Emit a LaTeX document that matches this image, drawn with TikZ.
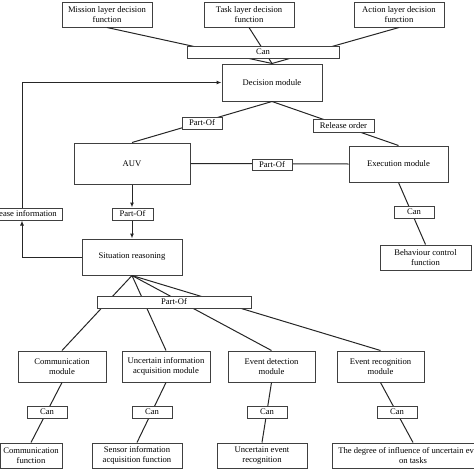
\documentclass[tikz,border=0pt]{standalone}
\usepackage{fontspec}
\setmainfont{Liberation Serif}
\usetikzlibrary{arrows.meta}

\begin{document}
\begin{tikzpicture}[x=1pt,y=-1pt,
    box/.style={draw=black!75,line width=1pt,fill=white,rectangle,inner sep=0pt,align=center,
      font=\fontsize{8.6}{10.5}\selectfont},
    tag/.style={box,minimum height=12pt},
    link/.style={draw=black!85,line width=1pt},
    arr/.style={link,-{Latex[length=5pt,width=4pt]}}]
    \useasboundingbox (0,0) rectangle (474,474);
    \clip (0,0) rectangle (474,474);
    \node [box,minimum width=90pt,minimum height=25pt] (mission) at (107,14.5) {Mission layer decision\\function};
    \node [box,minimum width=90pt,minimum height=25pt] (task) at (249,14.5) {Task layer decision\\function};
    \node [box,minimum width=90pt,minimum height=25pt] (action) at (399,14.5) {Action layer decision\\function};
    \node [box,minimum width=100pt,minimum height=37pt] (decision) at (272,82.5) {Decision module};
    \node [box,minimum width=116pt,minimum height=41pt] (auv) at (132,163.5) {AUV};
    \node [box,minimum width=99pt,minimum height=36pt] (exec) at (398.5,164) {Execution module};
    \node [box,minimum width=100pt,minimum height=36pt] (situation) at (132,257) {Situation reasoning};
    \node [box,minimum width=91pt,minimum height=25pt] (behaviour) at (425.5,257.5) {Behaviour control\\function};
    \node [box,minimum width=88pt,minimum height=31pt] (comm) at (62,366.5) {Communication\\module};
    \node [box,minimum width=88pt,minimum height=31pt] (uncert) at (166,366.5) {Uncertain information\\acquisition module};
    \node [box,minimum width=87pt,minimum height=31pt] (detect) at (271.5,366.5) {Event detection\\module};
    \node [box,minimum width=87pt,minimum height=31pt] (recog) at (380.5,366.5) {Event recognition\\module};
    \node [box,minimum width=62pt,minimum height=25pt] (commf) at (31,455.5) {Communication\\function};
    \node [box,minimum width=90pt,minimum height=25pt] (sensor) at (137,455.5) {Sensor information\\acquisition function};
    \node [box,minimum width=90pt,minimum height=25pt] (uevent) at (262,455.5) {Uncertain event\\recognition};
    \node [box,minimum width=162pt,minimum height=25pt] (degree) at (413,455.5) {The degree of influence of uncertain events\\on tasks};
    \draw [link] (mission.south) -- (decision.north);
    \draw [link] (task.south) -- (decision.north);
    \draw [link] (action.south) -- (decision.north);
    \draw [link] (decision.south) -- (auv.north);
    \draw [link] (decision.south) -- (exec.north);
    \draw [link] (auv.east) -- (exec.west);
    \draw [link] (exec.south) -- (behaviour.north);
    \draw [link] (situation.south) -- (comm.north);
    \draw [link] (situation.south) -- (uncert.north);
    \draw [link] (situation.south) -- (detect.north);
    \draw [link] (situation.south) -- (recog.north);
    \draw [link] (comm.south) -- (commf.north);
    \draw [link] (uncert.south) -- (sensor.north);
    \draw [link] (detect.south) -- (uevent.north);
    \draw [link] (recog.south) -- (degree.north);
    \node [tag,minimum width=152pt] (canTop) at (263,52) {Can};
    \node [tag,minimum width=40pt] (partDec) at (202,123) {Part-Of};
    \node [tag,minimum width=61pt,minimum height=13pt] (release) at (343.5,125.5) {Release order};
    \node [tag,minimum width=40pt,minimum height=11pt] (partAE) at (272,164.5) {Part-Of};
    \node [tag,minimum width=41pt] (partAS) at (132.5,214) {Part-Of};
    \node [tag,minimum width=80pt] (relinfo) at (22,214) {Release information};
    \node [tag,minimum width=40pt] (canExec) at (414,212) {Can};
    \node [tag,minimum width=154pt] (partSit) at (174,302) {Part-Of};
    \node [tag,minimum width=40pt] (can1) at (47,412) {Can};
    \node [tag,minimum width=40pt] (can2) at (152,412) {Can};
    \node [tag,minimum width=40pt] (can3) at (267,412) {Can};
    \node [tag,minimum width=40pt] (can4) at (397,412) {Can};
    \draw [arr] (auv.south) -- (auv.south |- partAS.north);
    \draw [arr] (auv.south |- partAS.south) -- (situation.north);
    \draw [arr] (situation.west) -| (relinfo.south);
    \draw [arr] (relinfo.north) |- (decision.west);
\end{tikzpicture}
\end{document}
